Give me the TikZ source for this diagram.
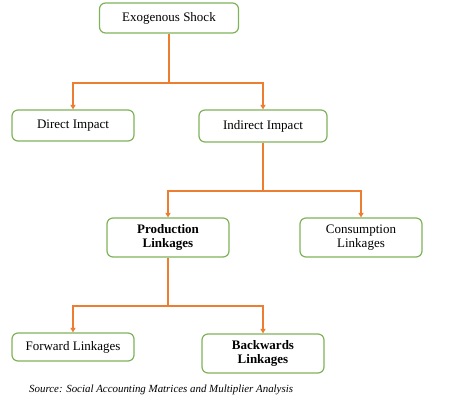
\documentclass[tikz,border=0pt]{standalone}
\usepackage{fontspec}
\setmainfont{Liberation Serif}
\usetikzlibrary{arrows.meta}
\definecolor{boxgreen}{HTML}{7FB35A}
\definecolor{lineorange}{HTML}{ED7D31}
\begin{document}
\begin{tikzpicture}[x=1pt,y=-1pt,
  box/.style={draw=boxgreen,line width=1.2pt,rounded corners=6pt,fill=white,
    align=center,font=\fontsize{13}{14.5}\selectfont,inner sep=2pt},
  conn/.style={draw=lineorange,line width=1.4pt},
  arr/.style={conn,-{Triangle[length=4.5pt,width=5pt]}}]
\useasboundingbox (0,0) rectangle (474,406);
\node[box,minimum width=139pt,minimum height=30pt] (exo) at (169,18) {Exogenous Shock};
\node[box,minimum width=122pt,minimum height=31pt] (direct) at (73,125.5) {Direct Impact};
\node[box,minimum width=128pt,minimum height=32pt] (indirect) at (263,126) {Indirect Impact};
\node[box,minimum width=122pt,minimum height=39pt] (prod) at (168,237.5) {\textbf{Production}\\\textbf{Linkages}};
\node[box,minimum width=122pt,minimum height=39pt] (cons) at (361,237.5) {Consumption\\Linkages};
\node[box,minimum width=122pt,minimum height=28pt] (fwd) at (73,347) {Forward Linkages};
\node[box,minimum width=122pt,minimum height=39pt] (bwd) at (263,353.5) {\textbf{Backwards}\\\textbf{Linkages}};
\coordinate (j1) at (169,83);
\coordinate (j2) at (263,191);
\coordinate (j3) at (168,306);
\draw[conn] (exo.south) -- (j1);
\draw[arr] (j1) -| (direct.north);
\draw[arr] (j1) -| (indirect.north);
\draw[conn] (indirect.south) -- (j2);
\draw[arr] (j2) -| (prod.north);
\draw[arr] (j2) -| (cons.north);
\draw[conn] (prod.south) -- (j3);
\draw[arr] (j3) -| (fwd.north);
\draw[arr] (j3) -| (bwd.north);
\node[anchor=west,inner sep=0pt,font=\fontsize{10.9}{13}\selectfont\itshape] (src) at (29,390) {Source: Social Accounting Matrices and Multiplier Analysis};
\end{tikzpicture}
\end{document}
